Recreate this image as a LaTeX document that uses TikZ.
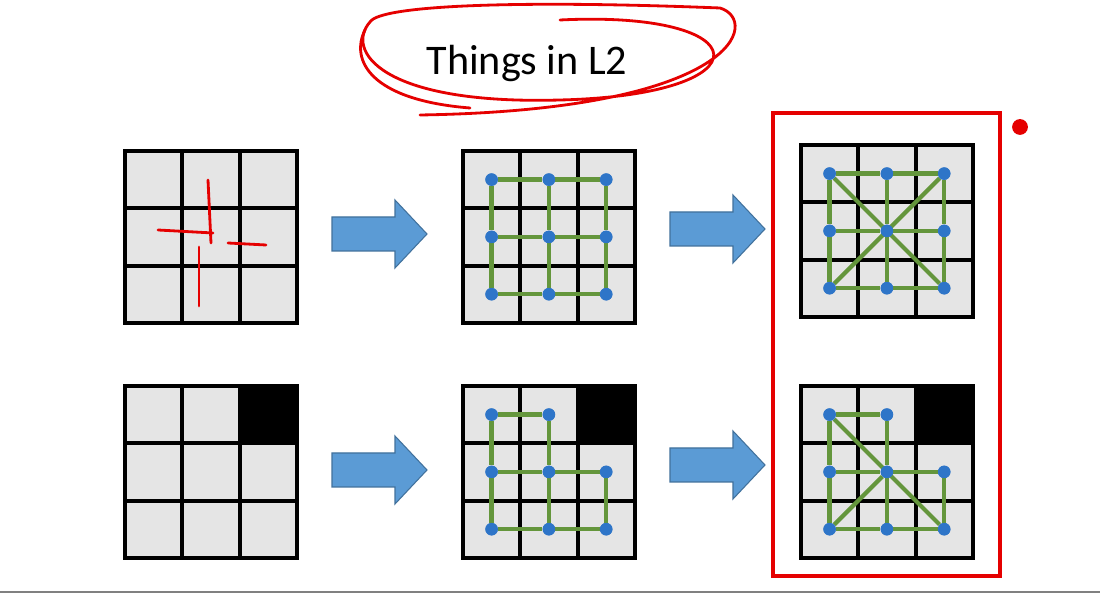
\documentclass[tikz,border=0pt]{standalone}
\usepackage{fontspec}
\setmainfont{Carlito}
\definecolor{dotc}{RGB}{46,117,200}
\definecolor{edgec}{RGB}{100,150,60}
\definecolor{arrc}{RGB}{91,155,213}
\definecolor{arrd}{RGB}{65,113,156}
\begin{document}
\begin{tikzpicture}[x=0.02cm,y=-0.02cm,
  cellbox/.style={fill=black!10,draw=black,line width=2.2pt},
  dot/.style={circle,fill=dotc,inner sep=0pt,minimum size=7pt},
  edge/.style={draw=edgec,line width=2.4pt},
  arrowshape/.style={fill=arrc,draw=arrd,line width=0.6pt},
  redink/.style={draw=red!90!black,line width=1.6pt,line cap=round}]
\useasboundingbox (0,0) rectangle (1100,597);
\fill[white] (0,0) rectangle (1100,597);
\draw[gray,line width=1pt] (0,592) -- (1100,592);
% title
\node (title) at (527,63) {\fontsize{24}{28}\selectfont Things in L2};
\draw[redink] (560,20) .. controls (760,10) and (770,95) .. (560,100) .. controls (380,105) and (345,50) .. (370,22) .. controls (380,5) and (520,0) .. (720,8) .. controls (760,20) and (740,110) .. (420,115);
\draw[redink] (365,30) .. controls (350,60) and (370,100) .. (470,108);
% grids
\newcommand{\mygrid}[3]{%
  \foreach \i in {0,1,2}{\foreach \j in {0,1,2}{
    \draw[cellbox] ({#1+57.3*\i},{#2+57.3*\j}) rectangle ++(57.3,57.3);}}
  \ifnum#3=1 \fill[black] ({#1+114.6},#2) rectangle ++(57.3,57.3);\fi
  \draw[line width=2.8pt] (#1,#2) rectangle ++(172,172);}
\mygrid{125}{151}{0}
\mygrid{125}{386}{1}
\mygrid{463}{151}{0}
\mygrid{463}{386}{1}
\mygrid{801}{145}{0}
\mygrid{801}{386}{1}
% red scribbles
\draw[redink] (208,180) -- (211,243);
\draw[redink] (158,230) -- (213,233);
\draw[redink] (199,247) -- (199,306);
\draw[redink] (228,243) -- (266,245);
% arrows
\newcommand{\blockarrow}[2]{%
  \draw[arrowshape] (#1,#2-17) -- (#1+63,#2-17) -- (#1+63,#2-34) -- (#1+95,#2) -- (#1+63,#2+34) -- (#1+63,#2+17) -- (#1,#2+17) -- cycle;}
\blockarrow{332}{234}
\blockarrow{670}{229}
\blockarrow{332}{470}
\blockarrow{670}{465}
% dot nodes
\newcommand{\mydots}[3]{%
  \foreach \i in {0,1,2}{\foreach \j in {0,1,2}{
    \node[dot] (#1\i\j) at ({#2+57.3*\i+28.6},{#3+57.3*\j+28.6}) {};}}}
\mydots{A}{463}{151}
\mydots{B}{463}{386}
\mydots{C}{801}{145}
\mydots{D}{801}{386}
% edges
\foreach \p in {A,C}{
  \foreach \i in {0,1,2}{\draw[edge] (\p\i0)--(\p\i1)--(\p\i2); \draw[edge] (\p0\i)--(\p1\i)--(\p2\i);}}
\foreach \p in {B,D}{
  \draw[edge] (\p00)--(\p10); \draw[edge] (\p01)--(\p11)--(\p21); \draw[edge] (\p02)--(\p12)--(\p22);
  \draw[edge] (\p00)--(\p01)--(\p02); \draw[edge] (\p10)--(\p11)--(\p12); \draw[edge] (\p21)--(\p22);}
\draw[edge] (C00)--(C22); \draw[edge] (C20)--(C02);
\draw[edge] (D00)--(D22); \draw[edge] (D11)--(D02);
\foreach \p in {A,B,C,D}{\foreach \i in {0,1,2}{\foreach \j in {0,1,2}{
  \fill[dotc] (\p\i\j) circle (3.6pt);}}}
\fill[black] (578,386) rectangle (635,443);
\fill[black] (916,386) rectangle (973,443);
% red frame
\draw[red!90!black,line width=2pt] (773,113) rectangle (1000,576);
\fill[red!90!black] (1020,127) circle (4.5pt);
\end{tikzpicture}
\end{document}
